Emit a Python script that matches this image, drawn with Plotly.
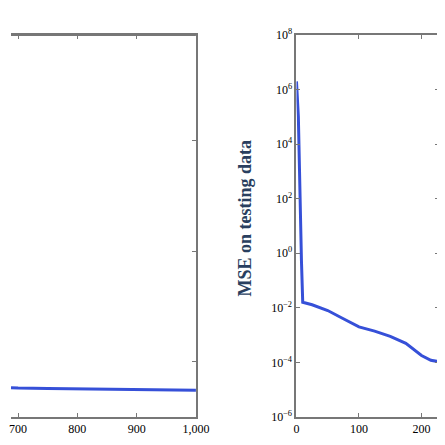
import plotly.graph_objects as go

left_x = [688, 700, 750, 800, 850, 900, 950, 1000]
left_y = [0.265, 0.262, 0.258, 0.255, 0.252, 0.249, 0.246, 0.243]
right_x = [0, 3, 8, 10, 25, 50, 75, 100, 125, 150, 175, 200, 215, 230, 245]
right_y = [2e6, 1e5, 5e-1, 1.6e-2, 1.3e-2, 8e-3, 4e-3, 2e-3, 1.4e-3, 9e-4, 5e-4, 1.8e-4, 1.2e-4, 1e-4, 9e-5]
xt_left = [700, 800, 900, 1000]
xt_left_text = ["700", "800", "900", "1,000"]
yt_right = [1e-6, 1e-4, 1e-2, 1, 1e2, 1e4, 1e6, 1e8]
yt_right_text = ["10<sup>−6</sup>", "10<sup>−4</sup>", "10<sup>−2</sup>", "10<sup>0</sup>",
                 "10<sup>2</sup>", "10<sup>4</sup>", "10<sup>6</sup>", "10<sup>8</sup>"]
xt_right = [0, 100, 200]

blue = "#3650d8"
gray = "#777777"
font = dict(family="Liberation Serif, DejaVu Serif, serif", size=12, color="black")

fig = go.Figure()
fig.add_trace(go.Scatter(x=left_x, y=left_y, mode="lines", line=dict(color=blue, width=3), xaxis="x", yaxis="y"))
fig.add_trace(go.Scatter(x=right_x, y=right_y, mode="lines", line=dict(color=blue, width=3), xaxis="x2", yaxis="y2"))

ax = dict(showline=True, linecolor=gray, linewidth=2, ticks="inside", tickcolor=gray, ticklen=4,
          showgrid=False, zeroline=False, tickfont=font)
fig.update_layout(
    width=445, height=445, margin=dict(l=0, r=0, t=27, b=36),
    paper_bgcolor="white", plot_bgcolor="white", showlegend=False,
    xaxis=dict(ax, domain=[0, 0.432], range=[688, 1000], tickvals=xt_left, ticktext=xt_left_text,
               mirror="ticks"),
    yaxis=dict(ax, domain=[0, 1], range=[0, 3.46], tickvals=[0.5, 1.5, 2.5, 3.5], showticklabels=False,
               side="right", showline=True, mirror=False),
    xaxis2=dict(ax, domain=[0.667, 1], range=[0, 228], tickvals=xt_right, anchor="y2", mirror="ticks"),
    yaxis2=dict(ax, domain=[0, 1], type="log", range=[-6, 8], tickvals=yt_right, ticktext=yt_right_text,
                anchor="x2", mirror="ticks"),
)
fig.add_shape(type="line", xref="x", yref="paper", x0=688, x1=1000, y0=1, y1=1, line=dict(color=gray, width=2))
fig.add_annotation(text="<b>MSE on testing data</b>", xref="paper", yref="paper", x=0.547, y=0.52,
                   textangle=-90, showarrow=False, font=dict(family="Liberation Serif, DejaVu Serif, serif", size=18))
fig.write_html("out.html")
